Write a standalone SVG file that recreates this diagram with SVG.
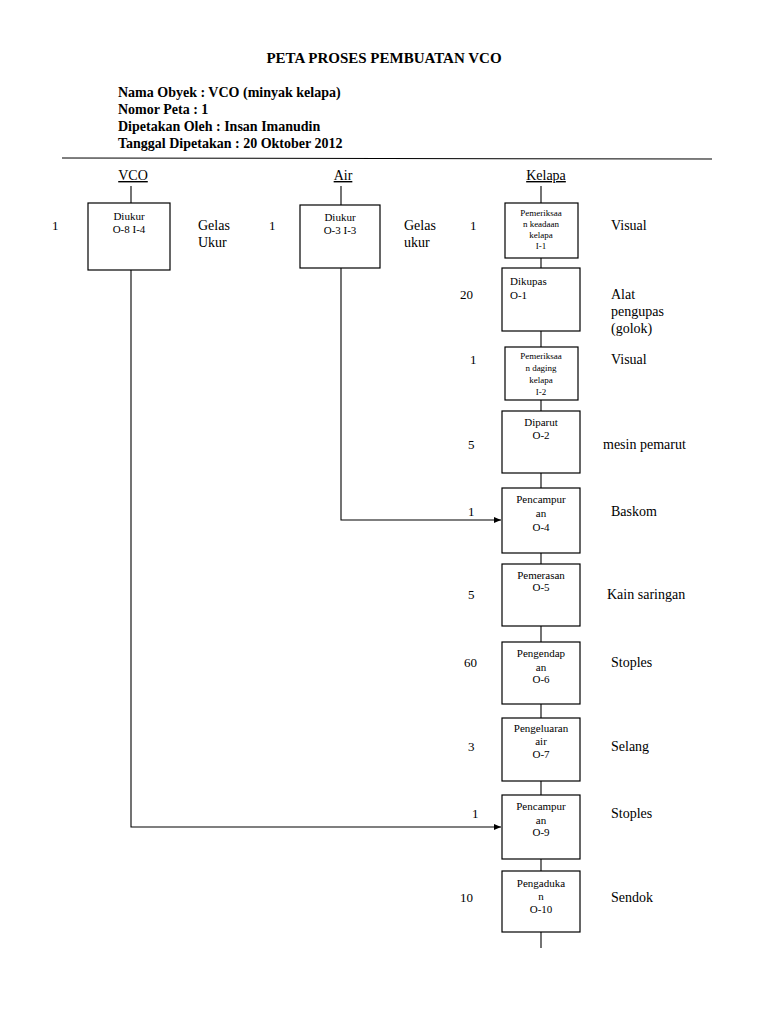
<svg xmlns="http://www.w3.org/2000/svg" width="768" height="1024" viewBox="0 0 768 1024">
<style>
text{font-family:"Liberation Serif","Times New Roman",serif;fill:#000}
.h{font-size:14px;font-weight:bold}
.ttl{font-size:15px;font-weight:bold;text-anchor:middle}
.t{font-size:14px}
.n{font-size:13px}
.s{font-size:11px;text-anchor:middle}
.sl{font-size:11px}
.xs{font-size:9px;text-anchor:middle}
.c{text-anchor:middle}
rect{fill:#fff;stroke:#000;stroke-width:1.2}
line,path{stroke:#000;stroke-width:1.1;fill:none}
path.head{fill:#000;stroke:none}
</style>
<defs><marker id="a" markerWidth="8" markerHeight="8" refX="7" refY="4" orient="auto" markerUnits="userSpaceOnUse"><path class="head" d="M0,1 L7,4 L0,7 Z"/></marker></defs>
<rect width="768" height="1024" style="fill:#fff;stroke:none"/>
<text class="ttl" x="384" y="63">PETA PROSES PEMBUATAN VCO</text>
<text class="h" x="118" y="97">Nama Obyek : VCO (minyak kelapa)</text>
<text class="h" x="118" y="114">Nomor Peta : 1</text>
<text class="h" x="118" y="131">Dipetakan Oleh : Insan Imanudin</text>
<text class="h" x="118" y="148">Tanggal Dipetakan : 20 Oktober 2012</text>
<line x1="62" y1="158" x2="712" y2="159"/>
<text class="t c" x="133" y="180" text-decoration="underline">VCO</text>
<text class="t c" x="343" y="180" text-decoration="underline">Air</text>
<text class="t c" x="546" y="180" text-decoration="underline">Kelapa</text>
<g id="connectors">
<line x1="131" y1="186" x2="131" y2="203"/>
<path d="M131,270 V827 H501" marker-end="url(#a)"/>
<line x1="341" y1="186" x2="341" y2="205"/>
<path d="M341,268 V520 H501" marker-end="url(#a)"/>
<line x1="541" y1="186" x2="541" y2="948"/>
</g>
<g id="vco"><rect x="88" y="203" width="82" height="67"/><text class="s" x="129" y="220">Diukur</text><text class="s" x="129" y="233">O-8  I-4</text>
<text class="n" x="52" y="230">1</text><text class="t" x="198" y="230">Gelas</text><text class="t" x="198" y="247">Ukur</text></g>
<g id="air"><rect x="300" y="205" width="80" height="63"/><text class="s" x="340" y="221">Diukur</text><text class="s" x="340" y="234">O-3  I-3</text>
<text class="n" x="269" y="230">1</text><text class="t" x="404" y="230">Gelas</text><text class="t" x="404" y="247">ukur</text></g>
<g id="i1"><rect x="505" y="203" width="73" height="55"/><text class="xs" x="541" y="216">Pemeriksaa</text><text class="xs" x="541" y="227">n keadaan</text><text class="xs" x="541" y="238">kelapa</text><text class="xs" x="541" y="249">I-1</text>
<text class="n" x="470" y="230">1</text><text class="t" x="611" y="230">Visual</text></g>
<g id="o1"><rect x="502" y="268" width="78" height="63"/><text class="sl" x="510" y="285">Dikupas</text><text class="sl" x="510" y="299">O-1</text>
<text class="n" x="460" y="299">20</text><text class="t" x="611" y="299">Alat</text><text class="t" x="611" y="316">pengupas</text><text class="t" x="611" y="333">(golok)</text></g>
<g id="i2"><rect x="505" y="347" width="73" height="53"/><text class="xs" x="541" y="359">Pemeriksaa</text><text class="xs" x="541" y="371">n daging</text><text class="xs" x="541" y="383">kelapa</text><text class="xs" x="541" y="395">I-2</text>
<text class="n" x="470" y="364">1</text><text class="t" x="611" y="364">Visual</text></g>
<g id="o2"><rect x="502" y="411" width="78" height="62"/><text class="s" x="541" y="426">Diparut</text><text class="s" x="541" y="439">O-2</text>
<text class="n" x="468" y="449">5</text><text class="t" x="603" y="449">mesin pemarut</text></g>
<g id="o4"><rect x="502" y="488" width="78" height="65"/><text class="s" x="541" y="503">Pencampur</text><text class="s" x="541" y="517">an</text><text class="s" x="541" y="531">O-4</text>
<text class="n" x="468" y="516">1</text><text class="t" x="611" y="516">Baskom</text></g>
<g id="o5"><rect x="502" y="564" width="78" height="62"/><text class="s" x="541" y="579">Pemerasan</text><text class="s" x="541" y="591">O-5</text>
<text class="n" x="468" y="599">5</text><text class="t" x="607" y="599">Kain saringan</text></g>
<g id="o6"><rect x="502" y="642" width="78" height="62"/><text class="s" x="541" y="657">Pengendap</text><text class="s" x="541" y="671">an</text><text class="s" x="541" y="683">O-6</text>
<text class="n" x="464" y="667">60</text><text class="t" x="611" y="667">Stoples</text></g>
<g id="o7"><rect x="502" y="718" width="78" height="63"/><text class="s" x="541" y="732">Pengeluaran</text><text class="s" x="541" y="745">air</text><text class="s" x="541" y="758">O-7</text>
<text class="n" x="468" y="751">3</text><text class="t" x="611" y="751">Selang</text></g>
<g id="o9"><rect x="502" y="795" width="78" height="64"/><text class="s" x="541" y="810">Pencampur</text><text class="s" x="541" y="824">an</text><text class="s" x="541" y="836">O-9</text>
<text class="n" x="472" y="818">1</text><text class="t" x="611" y="818">Stoples</text></g>
<g id="o10"><rect x="502" y="871" width="78" height="61"/><text class="s" x="541" y="887">Pengaduka</text><text class="s" x="541" y="900">n</text><text class="s" x="541" y="913">O-10</text>
<text class="n" x="460" y="902">10</text><text class="t" x="611" y="902">Sendok</text></g>
</svg>
